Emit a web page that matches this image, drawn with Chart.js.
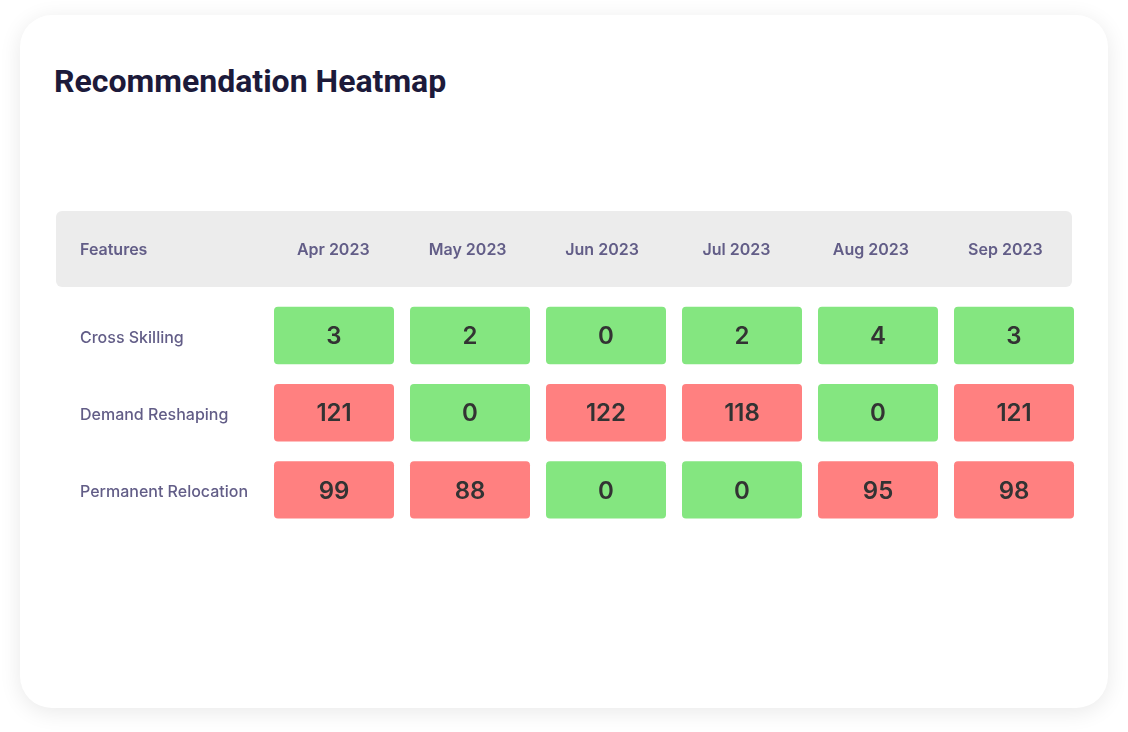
<!DOCTYPE html>
<html lang="en">
<head>
  <meta charset="UTF-8" />
  <title>Recommendation Heatmap</title>
  <script src="https://cdn.jsdelivr.net/npm/chart.js"></script>
  <style>
    html, body { margin: 0; padding: 0; background: #ffffff; }
    body { width: 1128px; height: 732px; position: relative; overflow: hidden; font-family: 'Inter', sans-serif; }
    .card {
      position: absolute; left: 20px; top: 15px; width: 1088px; height: 693px;
      background: #fff; border-radius: 32px;
      box-shadow: 0 4px 22px rgba(0,0,0,0.09);
    }
    h1 {
      position: absolute; left: 54px; top: 65px; margin: 0;
      font-family: 'Roboto', sans-serif; font-weight: 700; font-size: 32px; line-height: 32px;
      color: #1c1a3a;
    }
    .chart-box { position: absolute; left: 56px; top: 211px; width: 1030px; height: 330px; }
  </style>
</head>
<body>
<div class="card"></div>
<h1>Recommendation Heatmap</h1>
<div class="chart-box"><canvas id="heatmap"></canvas></div>

<script>
  const months = ['Apr 2023', 'May 2023', 'Jun 2023', 'Jul 2023', 'Aug 2023', 'Sep 2023'];
  const features = ['Cross Skilling', 'Demand Reshaping', 'Permanent Relocation'];
  const crossSkilling = [3, 2, 0, 2, 4, 3];
  const demandReshaping = [121, 0, 122, 118, 0, 121];
  const permanentRelocation = [99, 88, 0, 0, 95, 98];

  const values = [crossSkilling, demandReshaping, permanentRelocation];
  const labelColor = '#625d87';
  const green = '#84e680';
  const red = '#ff8080';
  const half = 0.372;

  const datasets = values.map((row, i) => ({
    label: features[i],
    data: row.map(() => [i - half, i + half]),
    counts: row,
    backgroundColor: row.map(v => v > 10 ? red : green),
    borderRadius: 4,
    borderSkipped: false,
    borderWidth: 0,
    barPercentage: 120 / 136,
    categoryPercentage: 1,
    grouped: false
  }));

  // header band + "Features" and the numbers inside the cells
  const tablePlugin = {
    id: 'tablePlugin',
    beforeDraw(chart) {
      const ctx = chart.ctx;
      ctx.save();
      ctx.fillStyle = '#ececec';
      ctx.beginPath();
      ctx.roundRect(0, 0, 1016, 76, 6);
      ctx.fill();
      ctx.fillStyle = labelColor;
      ctx.font = "600 16px 'Inter'";
      ctx.textAlign = 'left';
      ctx.textBaseline = 'middle';
      ctx.fillText('Features', 24, 39);
      ctx.restore();
    },
    afterDatasetsDraw(chart) {
      const ctx = chart.ctx;
      ctx.save();
      ctx.fillStyle = '#333333';
      ctx.font = "600 24px 'Inter'";
      ctx.textAlign = 'center';
      ctx.textBaseline = 'middle';
      chart.data.datasets.forEach((ds, di) => {
        chart.getDatasetMeta(di).data.forEach((bar, j) => {
          ctx.fillText(String(ds.counts[j]), bar.x, (bar.y + bar.base) / 2 + 1.5);
        });
      });
      ctx.restore();
    }
  };

  new Chart(document.getElementById('heatmap'), {
    type: 'bar',
    data: { labels: months, datasets: datasets },
    options: {
      responsive: true,
      maintainAspectRatio: false,
      animation: false,
      layout: { padding: { left: 24, right: 4, top: 0, bottom: 10 } },
      plugins: { legend: { display: false }, tooltip: { enabled: false } },
      scales: {
        x: { display: false },
        // header row: its columns are a little narrower than the cell columns
        xTop: {
          type: 'linear',
          position: 'top',
          offset: false,
          min: -0.5,
          max: 5.57,
          grid: { display: false, offset: false },
          border: { display: false },
          afterBuildTicks(scale) { scale.ticks = months.map((_, i) => ({ value: i })); },
          ticks: {
            color: labelColor,
            font: { family: 'Inter', size: 16, weight: '600' },
            padding: 29,
            maxRotation: 0,
            callback: v => months[v]
          },
          afterFit(scale) { scale.height = 86; }
        },
        y: {
          type: 'linear',
          reverse: true,
          min: -0.5,
          max: 2.5,
          grid: { display: false },
          border: { display: false },
          // labels sit a touch below the cell middles
          afterBuildTicks(scale) { scale.ticks = features.map((_, i) => ({ value: i + 0.03 })); },
          ticks: {
            crossAlign: 'far',
            color: labelColor,
            font: { family: 'Inter', size: 16, weight: '500' },
            callback: v => features[Math.round(v)]
          },
          afterFit(scale) { scale.width = 186; }
        }
      }
    },
    plugins: [tablePlugin]
  });
</script>
</body>
</html>
